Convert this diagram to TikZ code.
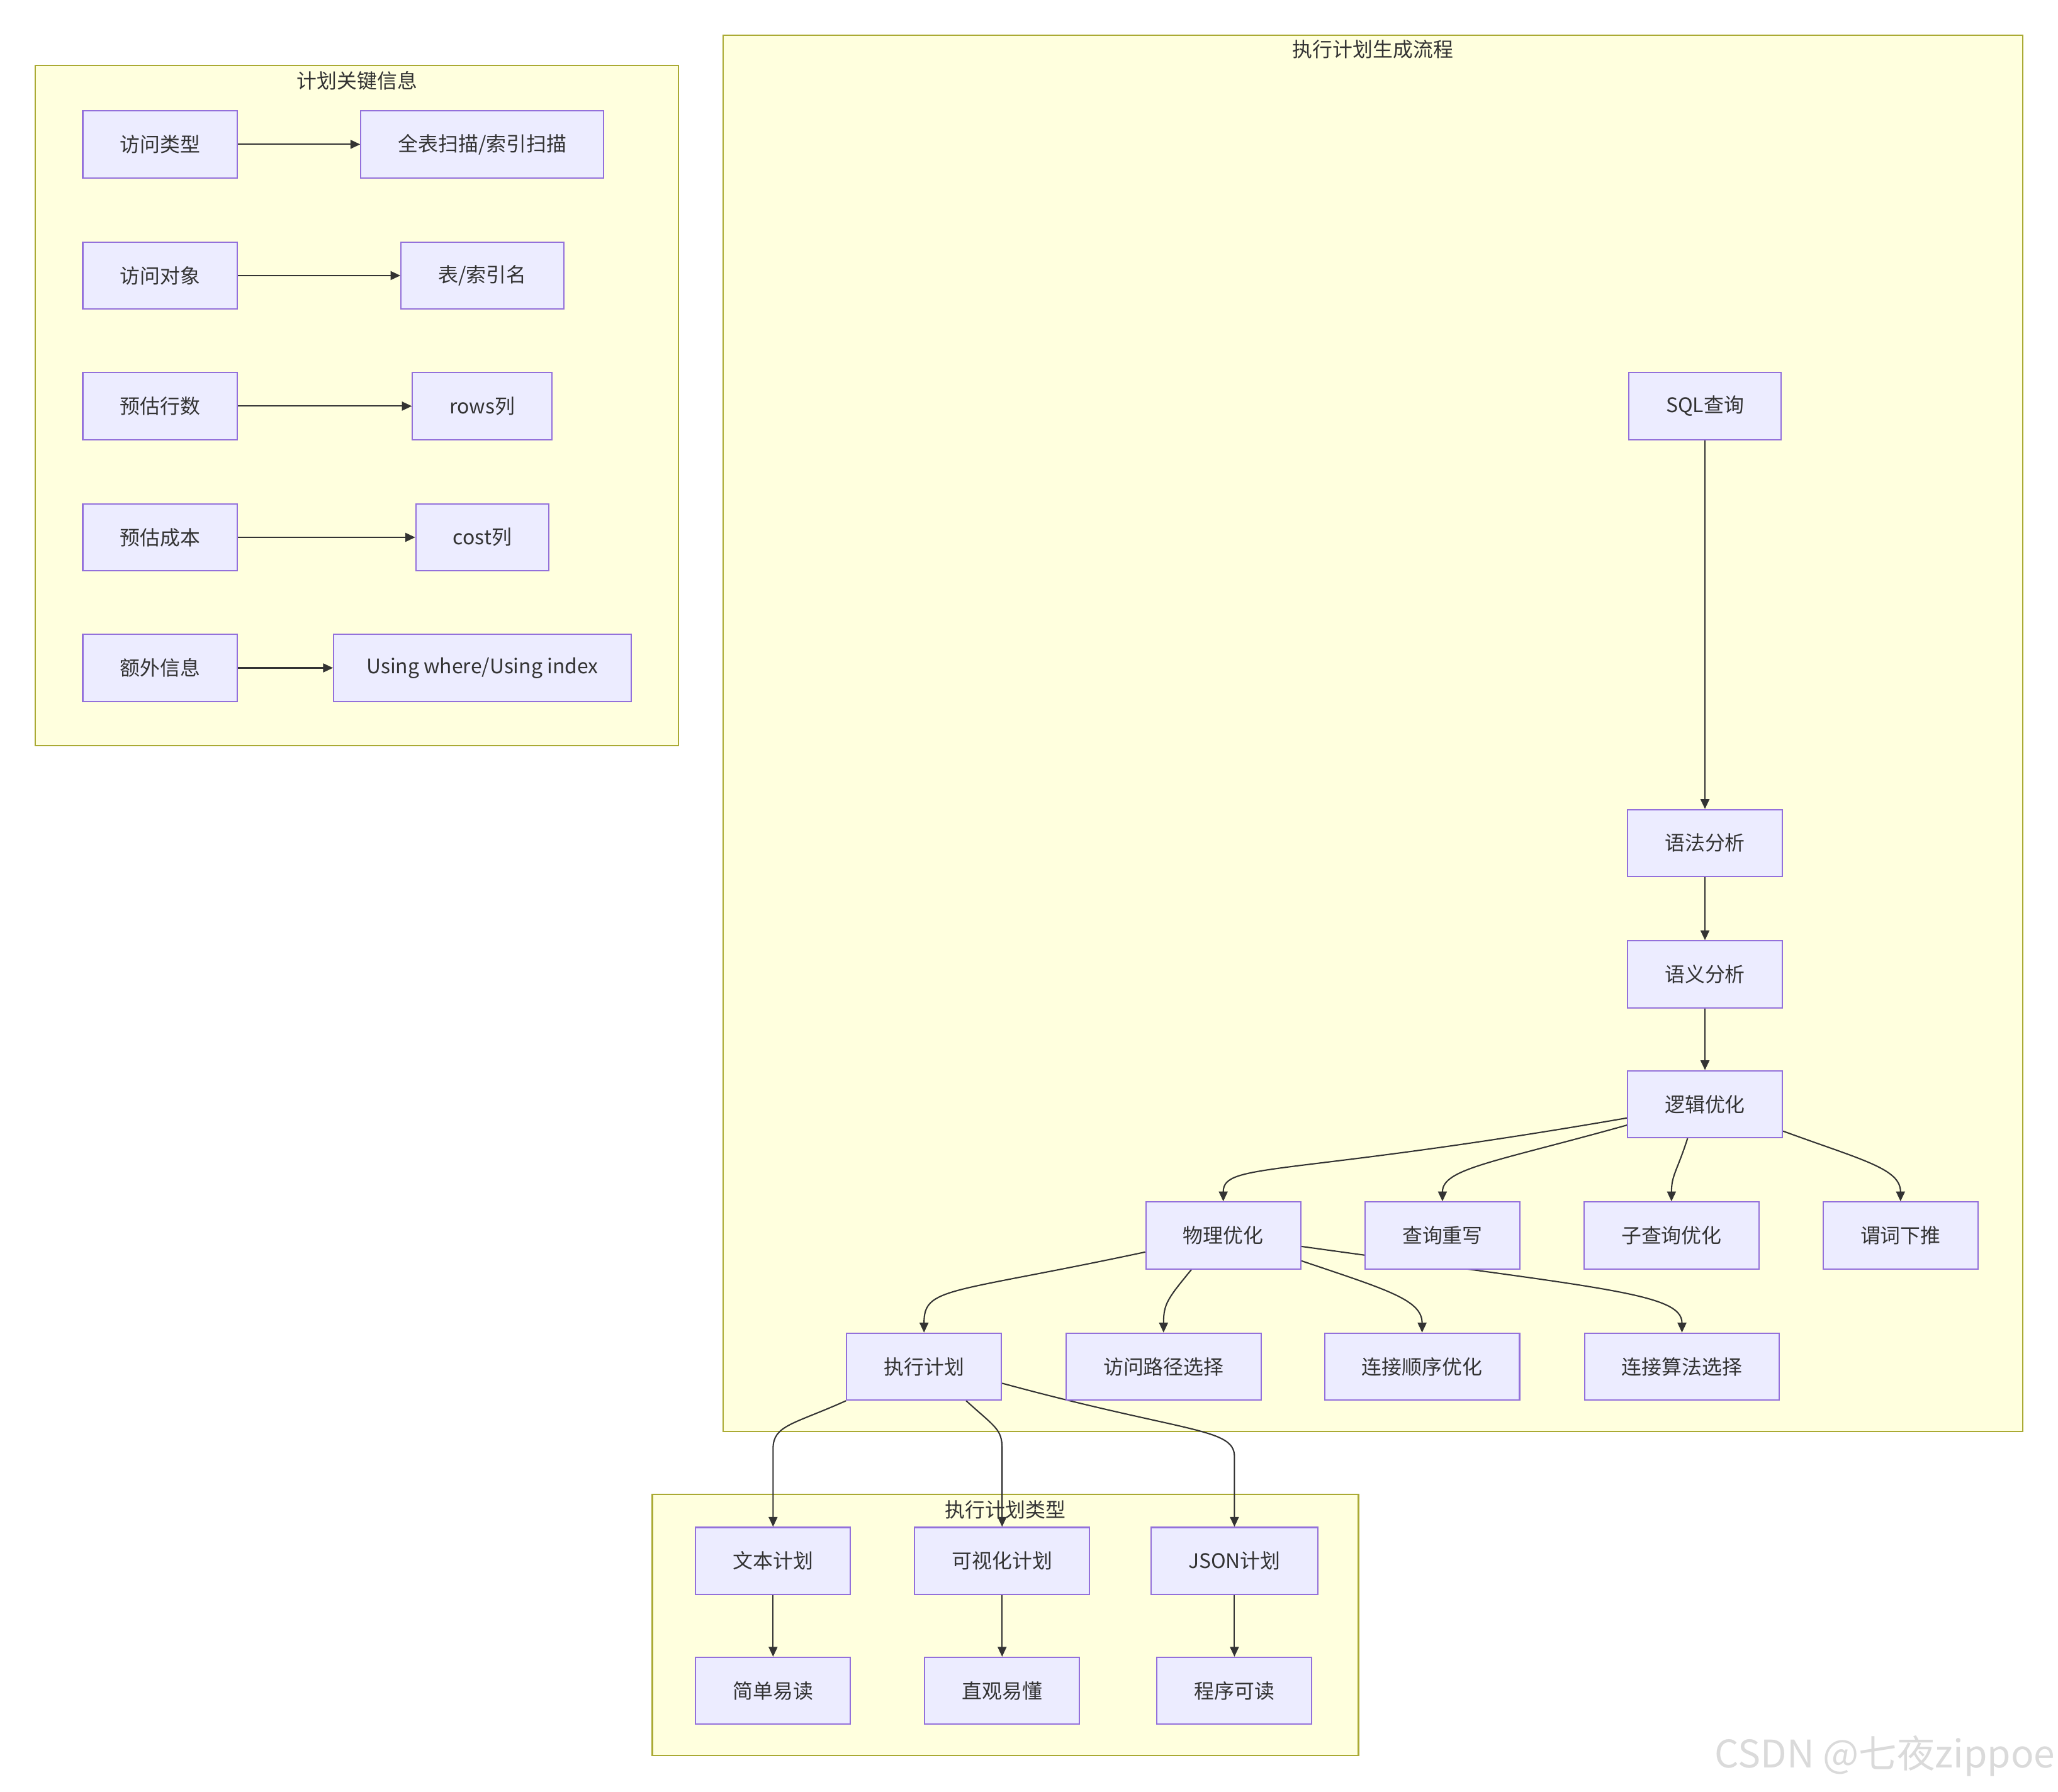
\documentclass[tikz,border=0pt]{standalone}
\usepackage{fontspec}
\setmainfont{Noto Sans CJK SC}
\usetikzlibrary{arrows.meta}
\definecolor{nodefill}{HTML}{ECECFF}
\definecolor{nodeline}{HTML}{9370DB}
\definecolor{clusterfill}{HTML}{FFFFDE}
\definecolor{clusterline}{HTML}{AAAA33}
\definecolor{edgeline}{HTML}{333333}
\definecolor{marktext}{HTML}{DADADA}
\pgfdeclarelayer{bg}
\pgfdeclarelayer{edges}
\pgfsetlayers{bg,edges,main}
\tikzset{
  box/.style={draw=nodeline, fill=nodefill, line width=0.57pt, text=edgeline,
    inner xsep=0.568cm, inner ysep=0pt, minimum height=1.02cm,
    font=\fontsize{8.7pt}{10pt}\selectfont},
  cluster/.style={draw=clusterline, fill=clusterfill, line width=0.57pt},
  title/.style={text=edgeline, inner sep=0pt, font=\fontsize{8.7pt}{10pt}\selectfont},
  flow/.style={draw=edgeline, line width=0.57pt, -{Triangle[length=0.15cm,width=0.135cm]}},
}

\begin{document}
\begin{tikzpicture}[x=0.02cm,y=0.02cm]
    \useasboundingbox (0,0) rectangle (1568,-1365.6);

    % groups
    \begin{pgfonlayer}{bg}
    \draw[cluster] (27,-50) rectangle (517,-568);
    \draw[cluster] (551,-27) rectangle (1541,-1091);
    \draw[cluster] (497,-1139) rectangle (1035,-1338);
    \node[title] at (272,-61.5)   (keyinfo)  {计划关键信息};
    \node[title] at (1046,-37.5)  (genflow)  {执行计划生成流程};
    \node[title] at (766,-1150.5) (plantype) {执行计划类型};
    \end{pgfonlayer}

    % key information
    \node[box] at (122,-110)     (acctype) {访问类型};
    \node[box] at (367.5,-110)   (scan)    {全表扫描/索引扫描};
    \node[box] at (122,-210)     (accobj)  {访问对象};
    \node[box] at (367.5,-210)   (tblname) {表/索引名};
    \node[box] at (122,-309.5)   (estrows) {预估行数};
    \node[box] at (367.5,-309.5) (rowscol) {rows列};
    \node[box] at (122,-409.5)   (estcost) {预估成本};
    \node[box] at (367.5,-409.5) (costcol) {cost列};
    \node[box] at (122,-509)     (extra)   {额外信息};
    \node[box, inner xsep=0.5cm] at (367.5,-509) (using) {Using where/Using index};

    % generation flow
    \node[box] at (1299,-309.5)   (sql)      {SQL查询};
    \node[box] at (1299,-642.5)   (syntax)   {语法分析};
    \node[box] at (1299,-742.5)   (semantic) {语义分析};
    \node[box] at (1299,-841.5)   (logic)    {逻辑优化};
    \node[box] at (932,-941.5)    (phys)     {物理优化};
    \node[box] at (1099,-941.5)   (rewrite)  {查询重写};
    \node[box] at (1273.5,-941.5) (subq)     {子查询优化};
    \node[box] at (1448,-941.5)   (pushdown) {谓词下推};
    \node[box] at (704,-1041.5)   (plan)     {执行计划};
    \node[box] at (886.5,-1041.5) (path)     {访问路径选择};
    \node[box] at (1083.5,-1041.5) (joinord) {连接顺序优化};
    \node[box] at (1281.5,-1041.5) (joinalg) {连接算法选择};

    % plan types
    \node[box] at (589,-1189.5)   (textplan) {文本计划};
    \node[box] at (763.5,-1189.5) (visplan)  {可视化计划};
    \node[box] at (940.5,-1189.5) (jsonplan) {JSON计划};
    \node[box] at (589,-1288.5)   (easy)     {简单易读};
    \node[box] at (763.5,-1288.5) (intuit)   {直观易懂};
    \node[box] at (940.5,-1288.5) (machine)  {程序可读};

    \node[text=marktext, anchor=east, inner sep=0pt, font=\fontsize{16.5pt}{18pt}\selectfont]
        at (1566,-1338) (mark) {CSDN @七夜zippoe};

    \begin{pgfonlayer}{edges}
    \draw[flow] (acctype) -- (scan);
    \draw[flow] (accobj) -- (tblname);
    \draw[flow] (estrows) -- (rowscol);
    \draw[flow] (estcost) -- (costcol);
    \draw[flow] (extra) -- (using);

    \draw[flow] (sql) -- (syntax);
    \draw[flow] (syntax) -- (semantic);
    \draw[flow] (semantic) -- (logic);
    \draw[flow] (logic.190) .. controls +(-260,-45) and +(0,30) .. (phys.north);
    \draw[flow] (logic.195) .. controls +(-100,-28) and +(0,25) .. (rewrite.north);
    \draw[flow] (logic.243) .. controls +(-8,-25) and +(0,20) .. (subq.north);
    \draw[flow] (logic.-19) .. controls +(60,-22) and +(0,25) .. (pushdown.north);
    \draw[flow] (phys.192) .. controls +(-150,-32) and +(0,35) .. (plan.north);
    \draw[flow] (phys.227) .. controls +(-18,-22) and +(0,22) .. (path.north);
    \draw[flow] (phys.-18) .. controls +(65,-22) and +(0,25) .. (joinord.north);
    \draw[flow] (phys.-8.5) .. controls +(230,-32) and +(0,30) .. (joinalg.north);

    % plan to plan types: bend, then straight down
    \draw[flow] (plan.south west) .. controls +(-40,-18) and +(0,18) .. (textplan.north |- 0,-1104) -- (textplan.north);
    \draw[flow] (plan.-39) .. controls +(22,-20) and +(0,15) .. (visplan.north |- 0,-1104) -- (visplan.north);
    \draw[flow] (plan.-12) .. controls +(140,-38) and +(0,22) .. (jsonplan.north |- 0,-1110) -- (jsonplan.north);
    \draw[flow] (textplan) -- (easy);
    \draw[flow] (visplan) -- (intuit);
    \draw[flow] (jsonplan) -- (machine);
    \end{pgfonlayer}
\end{tikzpicture}
\end{document}
